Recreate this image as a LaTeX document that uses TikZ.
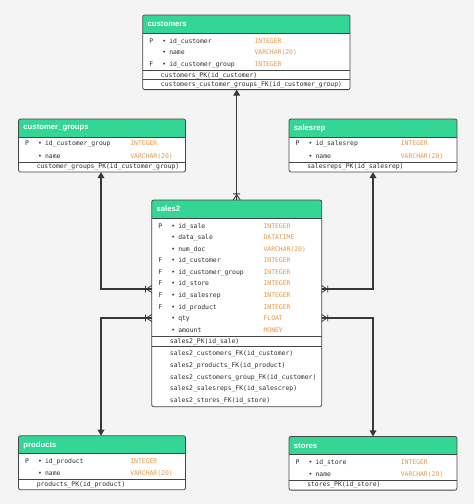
\documentclass[tikz,border=0pt]{standalone}
\usepackage{fontspec}
\setmonofont{DejaVu Sans Mono}
\setsansfont{Liberation Sans}
\usetikzlibrary{arrows.meta,calc}
\definecolor{bgc}{HTML}{F4F4F4}
\definecolor{hdrc}{RGB}{52,214,150}
\definecolor{borderc}{HTML}{454545}
\definecolor{txtc}{HTML}{2E2E2E}
\definecolor{typc}{RGB}{232,152,72}
\definecolor{connc}{HTML}{383838}
\tikzset{
  frame/.style={rectangle, anchor=north west, fill=white, inner sep=0pt, outer sep=0pt, rounded corners=1.5pt},
  border/.style={draw=borderc, line width=0.6pt},
  sepl/.style={draw=borderc, line width=0.5pt},
  ttl/.style={anchor=west, inner sep=0pt, text=white, font=\sffamily\bfseries\fontsize{5.8}{6}\selectfont},
  fl/.style={anchor=base west, inner sep=0pt, text=txtc, font=\ttfamily\fontsize{4.8}{5}\selectfont},
  ty/.style={fl, text=typc},
  conn/.style={draw=connc, line width=1.1pt},
  arr/.style={conn, -{Triangle[length=4.6pt,width=5pt]}},
  crow/.pic={\draw[connc, line width=0.6pt] (0,2.6pt) -- (4pt,0) -- (0,-2.6pt) (0,0) -- (4pt,0) (4.6pt,-2.6pt) -- (4.6pt,2.6pt);}
}
\newcommand\ertable[6]{%
  \node[frame, minimum width=#4*0.75pt, minimum height=#5*0.75pt] (#1) at (#2,#3) {};
  \begin{scope}
    \clip[rounded corners=1.5pt] (#1.north west) rectangle (#1.south east);
    \fill[hdrc] (#1.north west) rectangle ([yshift=-13.5pt]#1.north east);
  \end{scope}
  \draw[sepl] ([yshift=-13.5pt]#1.north west) -- ([yshift=-13.5pt]#1.north east);
  \node[ttl] (#1-title) at ([xshift=3.5pt,yshift=-6.9pt]#1.north west) {#6};
  \draw[border, rounded corners=1.5pt] (#1.north west) rectangle (#1.south east);
}
\newcommand\ersep[2]{\draw[sepl] ([yshift=-#2*0.75pt]#1.north west) -- ([yshift=-#2*0.75pt]#1.north east);}
% prefix, left x, y, flag, field, type
\newcommand\erow[6]{%
  \node[fl] (#1f) at (#2+6.3,#3+2.3) {#4};
  \node[fl] (#1b) at (#2+19.3,#3+2.3) {•};
  \node[fl] (#1n) at (#2+26.3,#3+2.3) {#5};
  \node[ty] (#1t) at (#2+111.6,#3+2.3) {#6};
}
\newcommand\eridx[4]{\node[fl] (#1) at (#2+18,#3+2.0) {#4};}
\begin{document}
\begin{tikzpicture}[x=0.75pt,y=-0.75pt]
\fill[bgc] (0,0) rectangle (474,504);
\useasboundingbox (0,0) rectangle (474,504);

% customers
\ertable{customers}{142.7}{15}{207.3}{74.6}{customers}
\erow{cu1}{142.7}{40.7}{P}{id\_customer}{INTEGER}
\erow{cu2}{142.7}{52.3}{}{name}{VARCHAR(20)}
\erow{cu3}{142.7}{63.7}{F}{id\_customer\_group}{INTEGER}
\ersep{customers}{55.8}
\eridx{cupk}{142.7}{75}{customers\_PK(id\_customer)}
\ersep{customers}{64.3}
\eridx{cufk}{142.7}{84}{customers\_customer\_groups\_FK(id\_customer\_group)}

% customer_groups
\ertable{cgroups}{18.5}{119}{167}{53}{customer\_groups}
\erow{cg1}{18.5}{143.3}{P}{id\_customer\_group}{INTEGER}
\erow{cg2}{18.5}{155.7}{}{name}{VARCHAR(20)}
\ersep{cgroups}{43.6}
\eridx{cgpk}{18.5}{166.8}{customer\_groups\_PK(id\_customer\_group)}

% salesrep
\ertable{salesrep}{289}{119}{168}{53}{salesrep}
\erow{sr1}{289}{143.3}{P}{id\_salesrep}{INTEGER}
\erow{sr2}{289}{155.7}{}{name}{VARCHAR(20)}
\ersep{salesrep}{43.6}
\eridx{srpk}{289}{166.8}{salesreps\_PK(id\_salesrep)}

% sales2
\ertable{s2}{151.7}{200}{170}{206.7}{sales2}
\erow{sa1}{151.7}{225.7}{P}{id\_sale}{INTEGER}
\erow{sa2}{151.7}{237.3}{}{data\_sale}{DATATIME}
\erow{sa3}{151.7}{248.8}{}{num\_doc}{VARCHAR(20)}
\erow{sa4}{151.7}{260.4}{F}{id\_customer}{INTEGER}
\erow{sa5}{151.7}{272}{F}{id\_customer\_group}{INTEGER}
\erow{sa6}{151.7}{283.6}{F}{id\_store}{INTEGER}
\erow{sa7}{151.7}{295.1}{F}{id\_salesrep}{INTEGER}
\erow{sa8}{151.7}{306.7}{F}{id\_product}{INTEGER}
\erow{sa9}{151.7}{318.3}{}{qty}{FLOAT}
\erow{sa10}{151.7}{330}{}{amount}{MONEY}
\ersep{s2}{136.4}
\eridx{sapk}{151.7}{341.6}{sales2\_PK(id\_sale)}
\ersep{s2}{146.3}
\eridx{safk1}{151.7}{353.5}{sales2\_customers\_FK(id\_customer)}
\eridx{safk2}{151.7}{365.3}{sales2\_products\_FK(id\_product)}
\eridx{safk3}{151.7}{377}{sales2\_customers\_group\_FK(id\_customer)}
\eridx{safk4}{151.7}{388.7}{sales2\_salesreps\_FK(id\_salescrep)}
\eridx{safk5}{151.7}{400.2}{sales2\_stores\_FK(id\_store)}

% products
\ertable{products}{18.5}{435.8}{167}{54}{products}
\erow{pr1}{18.5}{461.5}{P}{id\_product}{INTEGER}
\erow{pr2}{18.5}{473}{}{name}{VARCHAR(20)}
\ersep{products}{43.8}
\eridx{prpk}{18.5}{484.3}{products\_PK(id\_product)}

% stores
\ertable{stores}{289}{436.5}{168}{53.6}{stores}
\erow{st1}{289}{462.2}{P}{id\_store}{INTEGER}
\erow{st2}{289}{473.7}{}{name}{VARCHAR(20)}
\ersep{stores}{43.6}
\eridx{stpk}{289}{484.6}{stores\_PK(id\_store)}

% connectors
\coordinate (kcg) at (101,289);
\coordinate (kpr) at (101,318);
\coordinate (ksr) at (373,289);
\coordinate (kst) at (373,318);
\draw[arr] (s2.north) -- (s2.north |- customers.south);
\draw[arr] (kcg -| s2.west) -| (kcg |- cgroups.south);
\draw[arr] (kpr -| s2.west) -| (kpr |- products.north);
\draw[arr] (ksr -| s2.east) -| (ksr |- salesrep.south);
\draw[arr] (kst -| s2.east) -| (kst |- stores.north);
\pic[rotate=90] at (s2.north) {crow};
\pic[rotate=180] at (kcg -| s2.west) {crow};
\pic[rotate=180] at (kpr -| s2.west) {crow};
\pic at (ksr -| s2.east) {crow};
\pic at (kst -| s2.east) {crow};
\end{tikzpicture}
\end{document}
